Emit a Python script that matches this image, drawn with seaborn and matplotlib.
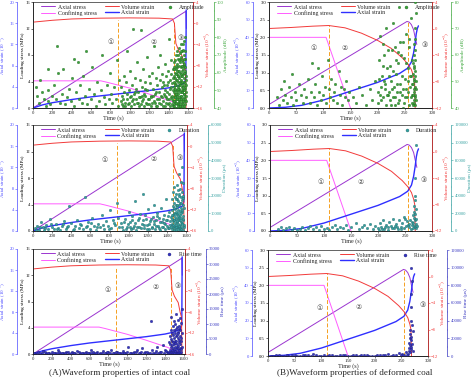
import matplotlib
matplotlib.use("Agg")
import seaborn as sns
import matplotlib.pyplot as plt
from matplotlib.ticker import MultipleLocator, AutoMinorLocator

sns.set_style("ticks")
plt.rcParams["font.family"] = ["Liberation Serif", "DejaVu Sans"]
plt.rcParams["mathtext.fontset"] = "stix"

# ---------------- intact coal (A) curves ----------------
A_t_stress = [0, 1578, 1583]
A_stress = [0, 14.6, 12.0]
A_t_conf = [0, 700, 760, 1000, 1200, 1430, 1500, 1560]
A_conf = [4.1, 4.1, 3.9, 3.0, 2.1, 1.0, 0.5, 0.25]
A_t_vol = [0, 200, 400, 700, 1000, 1300, 1440, 1460, 1475, 1500, 1540, 1560, 1575, 1580]
A_vol = [0.2, 0.55, 0.8, 0.95, 1.0, 0.95, 0.8, 0.0, -3.8, -5.0, -6.2, -8.0, -9.0, -16.0]
A_t_strain = [0, 100, 200, 400, 600, 800, 1000, 1200, 1400, 1500, 1560, 1578, 1582]
A_strain = [0, 0.6, 1.0, 1.6, 2.1, 2.5, 2.9, 3.3, 3.8, 4.2, 4.7, 5.5, 18.5]
A_stage_bounds = [880, 1460]

# ---------------- deformed coal (B) curves ----------------
B_t_stress = [0, 254, 258, 262, 266, 269, 272]
B_stress = [0.1, 2.45, 2.43, 2.36, 2.22, 2.0, 1.8]
B_t_conf = [0, 105, 150]
B_conf = [2.0, 2.0, 0.0]
B_t_vol = [0, 40, 80, 110, 140, 170, 200, 225, 245, 255, 262, 266, 268, 269]
B_vol = [0, 0.15, 0.35, 0.45, 0.1, -0.7, -1.8, -3.0, -4.4, -5.3, -6.2, -7.2, -8.0, -12.0]
B_t_strain = [0, 30, 60, 100, 150, 200, 240, 255, 262, 266, 269, 271, 273, 275]
B_strain = [0, 0.4, 1.5, 4.5, 9.5, 14.5, 19.5, 22.5, 26, 31, 37, 42, 45, 46.5]
B_stage_bounds = [110, 255]

# ---------------- AE hits (time, value) ----------------
A_amplitude = [
    (30, 52), (45, 47), (60, 43), (70, 56), (90, 49), (110, 45), (130, 41), (150, 44), (160, 50), (180, 42),
    (200, 47), (215, 53), (240, 45), (260, 60), (280, 43), (300, 48), (310, 62), (330, 42), (350, 46), (370, 51),
    (390, 44), (400, 57), (420, 41), (440, 49), (460, 66), (470, 45), (490, 53), (510, 43), (520, 58), (540, 47),
    (560, 42), (580, 51), (600, 45), (610, 63), (630, 48), (650, 41), (660, 55), (680, 44), (700, 50), (710, 70),
    (730, 46), (740, 42), (760, 53), (780, 45), (790, 60), (810, 48), (820, 43), (840, 52), (860, 45), (870, 67),
    (880, 41), (890, 56), (250, 75), (550, 72), (150, 62), (420, 68),
    (905, 44), (912, 52), (921, 47), (928, 41), (935, 58), (943, 49), (951, 43), (958, 55), (966, 45), (972, 72),
    (981, 42), (989, 50), (997, 46), (1004, 61), (1011, 41), (1019, 53), (1024, 44), (1031, 85), (1038, 48),
    (1046, 42), (1052, 57), (1060, 45), (1067, 51), (1073, 66), (1081, 43), (1088, 49), (1094, 41), (1101, 56),
    (1108, 46), (1113, 84), (1121, 44), (1127, 52), (1134, 62), (1142, 41), (1148, 48), (1155, 55), (1161, 47),
    (1168, 43), (1175, 69), (1182, 50), (1188, 45), (1195, 58), (1202, 42), (1208, 54), (1214, 47), (1221, 46),
    (1227, 60), (1233, 43), (1240, 51), (1246, 44), (1252, 75), (1259, 48), (1265, 41), (1271, 57), (1278, 45),
    (1284, 53), (1290, 63), (1296, 43), (1302, 49), (1308, 56), (1313, 70), (1319, 47), (1325, 42), (1330, 59),
    (1336, 52), (1342, 44), (1347, 55), (1352, 48), (1358, 65), (1363, 41), (1368, 50), (1373, 46), (1378, 58),
    (1383, 53), (1387, 45), (1392, 61), (1396, 42), (1401, 79), (1405, 48), (1409, 43), (1413, 56), (1417, 51),
    (1421, 67), (1425, 46), (1429, 59), (1433, 42), (1437, 54), (1441, 62), (1444, 44), (1447, 50), (1449, 57),
    (1330, 46), (1345, 41), (1355, 53), (1365, 47), (1375, 43), (1385, 49), (1395, 55), (1405, 45), (1415, 41),
    (1423, 52), (1431, 47), (1439, 45), (1446, 41), (1300, 45), (1285, 41), (1270, 49), (1255, 43), (1235, 47),
    (1215, 41), (1195, 45), (1180, 42), (1160, 51), (1140, 45), (1125, 47), (1110, 42), (1090, 46), (1075, 43),
    (1055, 49), (1035, 45), (1015, 47), (995, 43), (975, 48), (955, 41), (930, 45), (915, 42),
    (1452, 41), (1455, 46), (1451, 52), (1457, 58), (1454, 63),
    (1462, 43), (1465, 48), (1461, 54), (1467, 60), (1463, 67), (1466, 44),
    (1472, 40), (1475, 45), (1471, 50), (1477, 56), (1473, 62), (1476, 70), (1474, 47),
    (1482, 42), (1485, 47), (1481, 53), (1487, 59), (1483, 65), (1486, 72), (1484, 50),
    (1492, 41), (1495, 45), (1491, 49), (1497, 55), (1493, 61), (1496, 68), (1494, 52), (1498, 43),
    (1502, 40), (1505, 44), (1501, 48), (1507, 53), (1503, 57), (1506, 64), (1504, 74), (1508, 50),
    (1512, 42), (1515, 46), (1511, 51), (1517, 55), (1513, 60), (1516, 66), (1514, 71), (1518, 44),
    (1522, 41), (1525, 45), (1521, 49), (1527, 54), (1523, 58), (1526, 63), (1524, 69), (1528, 47), (1529, 76),
    (1532, 40), (1535, 43), (1531, 47), (1537, 52), (1533, 56), (1536, 61), (1534, 67), (1538, 72), (1539, 50),
    (1542, 41), (1545, 45), (1541, 49), (1547, 53), (1543, 58), (1546, 62), (1544, 66), (1548, 44), (1549, 73),
    (1552, 42), (1555, 46), (1551, 50), (1557, 55), (1553, 59), (1556, 64), (1554, 70), (1558, 48), (1559, 78),
    (1562, 40), (1565, 44), (1561, 48), (1567, 52), (1563, 57), (1566, 61), (1564, 65), (1568, 45), (1569, 80),
    (1572, 42), (1575, 47), (1571, 51), (1577, 56), (1573, 60), (1576, 44), (1574, 68),
    (1453, 44), (1458, 49), (1456, 55), (1459, 42), (1464, 51), (1468, 57), (1469, 46), (1460, 62), (1470, 53),
    (1478, 43), (1479, 59), (1480, 48), (1488, 45), (1489, 56), (1490, 63), (1499, 51), (1500, 58), (1509, 46),
    (1510, 61), (1519, 53), (1520, 42), (1530, 45), (1530, 59), (1540, 55), (1540, 64), (1550, 52), (1550, 44),
    (1560, 50), (1560, 60), (1570, 54), (1570, 63), (1578, 49), (1579, 58), (1458, 66), (1478, 64), (1498, 70),
    (1518, 68), (1538, 64), (1558, 68), (1568, 72), (1545, 76), (1525, 72), (1505, 67), (1485, 61), (1465, 40),
    (1495, 58), (1515, 41), (1535, 49), (1555, 41), (1575, 53),
]

A_duration = [
    (20, 1500), (40, 3000), (60, 800), (80, 5000), (100, 2000), (120, 600), (140, 3500), (160, 1200), (180, 7000),
    (200, 2500), (220, 900), (240, 4000), (260, 1800), (280, 600), (300, 3000), (320, 5500), (340, 1000),
    (360, 2200), (380, 14000), (400, 4500), (420, 800), (440, 2800), (460, 6000), (480, 1500), (500, 3500),
    (520, 900), (540, 19000), (560, 2600), (580, 5000), (600, 1200), (620, 7500), (640, 3000), (660, 800),
    (680, 4200), (700, 2000), (720, 9000), (740, 1000), (760, 5500), (780, 2800), (800, 12000), (820, 1500),
    (840, 6500), (860, 3500), (880, 16000), (900, 2200),
    (30, 500), (70, 2500), (130, 1800), (190, 3800), (250, 1200), (310, 4200), (370, 2600), (430, 1100),
    (490, 3800), (550, 2000), (610, 4800), (670, 2200), (730, 3600), (790, 1100), (850, 4400), (890, 7500),
    (920, 4500), (940, 800), (960, 7000), (980, 2500), (1000, 11000), (1010, 5000), (1020, 1200), (1040, 8500),
    (1060, 3000), (1070, 17000), (1080, 600), (1100, 6000), (1110, 2000), (1120, 9500), (1140, 4000),
    (1150, 21000), (1160, 1500), (1180, 7000), (1190, 3200), (1200, 12500), (1210, 900), (1220, 5500),
    (1240, 2500), (1250, 8000), (1260, 15000), (1270, 4000), (1280, 1000), (1290, 6500), (1300, 10000),
    (1310, 3000), (1320, 7500), (1330, 500), (1340, 13000), (1350, 5000), (1360, 2000), (1370, 9000),
    (1380, 4000), (1390, 18000), (1400, 6500), (1410, 1500), (1420, 11000), (1430, 3500), (1440, 8000),
    (930, 2000), (950, 5000), (970, 1000), (990, 4000), (1015, 2500), (1030, 6000), (1050, 1500), (1065, 4500),
    (1090, 2500), (1105, 7500), (1130, 1500), (1145, 6000), (1165, 3500), (1175, 9000), (1195, 1200),
    (1215, 4000), (1230, 7000), (1245, 1800), (1265, 5500), (1285, 3000), (1295, 8500), (1315, 1500),
    (1325, 5000), (1345, 2500), (1355, 7000), (1365, 4500), (1385, 1000), (1395, 6000), (1405, 3000),
    (1415, 8500), (1425, 1800), (1435, 5500), (1445, 2500),
    (1452, 1000), (1455, 4000), (1451, 7000), (1457, 12000), (1454, 18000),
    (1462, 2000), (1465, 5500), (1461, 9000), (1467, 14000), (1463, 22000),
    (1472, 500), (1475, 3000), (1471, 6500), (1477, 10000), (1473, 16000), (1476, 25000),
    (1482, 1500), (1485, 4500), (1481, 8000), (1487, 12500), (1483, 19000),
    (1492, 800), (1495, 3500), (1491, 7000), (1497, 11000), (1493, 15000), (1496, 21000),
    (1502, 2500), (1505, 5000), (1501, 9500), (1507, 13500), (1503, 18000), (1506, 26000),
    (1512, 1000), (1515, 4000), (1511, 7500), (1517, 12000), (1513, 17000), (1516, 23000),
    (1522, 2000), (1525, 6000), (1521, 10000), (1527, 14500), (1523, 20000), (1526, 32000),
    (1532, 500), (1535, 3500), (1531, 8000), (1537, 11500), (1533, 16000), (1536, 24000),
    (1542, 1500), (1545, 5000), (1541, 9000), (1547, 13000), (1543, 19000), (1546, 28000),
    (1552, 1000), (1555, 4500), (1551, 7500), (1557, 12000), (1553, 17500), (1556, 22000), (1554, 36000),
    (1562, 2500), (1565, 6000), (1561, 10500), (1567, 15000), (1563, 20000), (1566, 27000),
    (1572, 800), (1575, 3500), (1571, 8500), (1577, 13000), (1573, 18500),
    (1458, 9000), (1468, 3500), (1478, 6000), (1488, 9500), (1498, 2000), (1508, 5500), (1518, 8500),
    (1528, 3000), (1538, 6500), (1548, 10000), (1558, 4000), (1568, 7000), (1578, 2500), (1470, 13000),
    (1510, 15000), (1550, 16000), (1530, 21000), (1490, 18000),
]

A_rise_time = [
    (20, 300), (50, 600), (80, 150), (110, 900), (140, 400), (170, 200), (200, 700), (230, 350), (260, 1200),
    (290, 250), (320, 500), (350, 800), (380, 150), (410, 600), (440, 300), (470, 1000), (500, 450), (530, 200),
    (560, 700), (590, 350), (620, 1500), (650, 250), (680, 600), (710, 400), (740, 900), (770, 200), (800, 550),
    (830, 1200), (860, 300), (890, 700), (920, 250), (950, 1100), (980, 500), (1010, 2500), (1040, 300),
    (1070, 800), (1100, 1500), (1130, 400), (1160, 2000), (1190, 700), (1220, 300), (1250, 11000), (1260, 1300),
    (1290, 500), (1320, 2200), (1350, 800), (1380, 3000), (1400, 1500), (1420, 600), (1440, 4000),
    (10, 400), (40, 150), (70, 500), (100, 250), (130, 600), (160, 300), (190, 150), (220, 450), (250, 300),
    (280, 600), (310, 200), (340, 400), (370, 550), (400, 250), (430, 450), (460, 150), (490, 600), (520, 350),
    (550, 500), (580, 200), (610, 400), (640, 600), (670, 300), (700, 150), (730, 500), (760, 350), (790, 700),
    (820, 250), (850, 450), (880, 600), (910, 300), (940, 500), (970, 200), (1000, 650), (1030, 400),
    (1060, 250), (1090, 700), (1120, 350), (1150, 550), (1180, 200), (1210, 800), (1240, 450), (1270, 300),
    (1300, 900), (1330, 400), (1360, 650), (1390, 250), (1410, 1100), (1430, 450), (1445, 800),
    (1452, 300), (1455, 1500), (1451, 3500), (1457, 6000),
    (1462, 800), (1465, 2500), (1461, 5000), (1467, 8000), (1463, 12500),
    (1472, 200), (1475, 1200), (1471, 3000), (1477, 4500), (1473, 7000),
    (1482, 600), (1485, 2000), (1481, 4000), (1487, 6500), (1483, 9500),
    (1492, 400), (1495, 1500), (1491, 3500), (1497, 5500), (1493, 8000), (1496, 11000),
    (1502, 900), (1505, 2500), (1501, 4500), (1507, 7000), (1503, 10000),
    (1512, 300), (1515, 1800), (1511, 3800), (1517, 6000), (1513, 8500), (1516, 13500),
    (1522, 700), (1525, 2200), (1521, 4200), (1527, 6500), (1523, 9000),
    (1532, 500), (1535, 1600), (1531, 3200), (1537, 5200), (1533, 7500), (1536, 11500),
    (1542, 200), (1545, 1400), (1541, 2800), (1547, 4800), (1543, 7000), (1546, 9500),
    (1552, 800), (1555, 2000), (1551, 4000), (1557, 6000), (1553, 8500), (1556, 12000),
    (1562, 400), (1565, 1800), (1561, 3500), (1567, 5500), (1563, 8000), (1566, 10500),
    (1572, 600), (1575, 2500), (1571, 4500), (1577, 7000), (1576, 15000),
]

B_amplitude = [
    (15, 44), (18, 41), (22, 47), (25, 43), (28, 50), (30, 45), (33, 42), (36, 48), (40, 44), (42, 53), (45, 41),
    (48, 46), (50, 43), (55, 49), (58, 45), (62, 42), (65, 47), (68, 44),
    (72, 51), (75, 42), (78, 46), (80, 57), (82, 44), (85, 49), (88, 41), (90, 55), (92, 46), (95, 43), (98, 52),
    (100, 45), (103, 48), (105, 42), (108, 58), (110, 47), (112, 44), (115, 51), (118, 43), (120, 46), (122, 49),
    (125, 42), (128, 54), (130, 45), (132, 48), (135, 41), (138, 47), (140, 44), (142, 50), (145, 43), (148, 46),
    (155, 44), (160, 42), (165, 48), (172, 45), (178, 41), (185, 47), (190, 43), (195, 50),
    (200, 42), (202, 58), (204, 45), (206, 48), (208, 52), (210, 44), (212, 60), (214, 47), (216, 41), (218, 55),
    (220, 46), (222, 43), (224, 50), (226, 62), (228, 44), (230, 48), (232, 41), (234, 53), (236, 46), (238, 57),
    (240, 43), (242, 49), (244, 45), (246, 65), (248, 42), (250, 51), (252, 47), (254, 44), (256, 55), (258, 41),
    (260, 48), (262, 52), (264, 45), (205, 67), (215, 70), (228, 72), (239, 78), (249, 59), (257, 63), (223, 56),
    (233, 58), (243, 60), (253, 68), (261, 74), (211, 50), (219, 45), (237, 42), (247, 47), (255, 50), (263, 42),
    (201, 46), (203, 51), (207, 43), (209, 56), (213, 49), (217, 45), (221, 52), (225, 41), (227, 47), (229, 54),
    (231, 44), (235, 49), (237, 61), (241, 46), (245, 52), (247, 40), (251, 44), (253, 57), (255, 46), (259, 52),
    (262, 44), (264, 58), (263, 49), (258, 66), (241, 65), (231, 63), (219, 62), (209, 64),
    (265, 41), (265, 45), (265, 49), (265, 53), (265, 57), (266, 43), (266, 47), (266, 51), (266, 55), (266, 60),
    (267, 42), (267, 46), (267, 50), (267, 56), (267, 64), (268, 44), (268, 48), (268, 52), (268, 58), (268, 66),
    (268, 80), (269, 41), (269, 45), (269, 54), (269, 62), (269, 70), (270, 43), (270, 47), (270, 50), (270, 76),
]

B_duration = [
    (15, 2000), (20, 4000), (25, 1000), (30, 3000), (35, 5000), (40, 1500), (45, 3500), (50, 800), (55, 2500),
    (60, 4500), (65, 1200), (70, 3000), (75, 6000), (80, 2000), (85, 4000), (90, 1000), (95, 5500), (100, 2500),
    (105, 3500), (110, 1500), (115, 4500), (120, 7000), (125, 2000), (130, 5000), (135, 3000), (140, 6500),
    (145, 1500), (150, 4000), (160, 9000), (165, 2500), (170, 5000), (175, 7000), (180, 3000), (185, 8000),
    (190, 2000), (195, 5500),
    (200, 3000), (203, 9000), (206, 5000), (209, 12000), (212, 2000), (215, 7000), (218, 4000), (221, 10000),
    (224, 6000), (227, 14000), (230, 3000), (233, 8000), (236, 5000), (239, 12000), (242, 2500), (245, 9000),
    (248, 16000), (251, 6000), (254, 11000), (257, 4000), (260, 13000), (263, 7000), (264, 18000),
    (201, 1500), (207, 2500), (213, 4500), (219, 1500), (225, 3500), (231, 6000), (237, 2000), (243, 4500),
    (249, 3000), (255, 6500), (261, 2500), (263, 10000), (258, 8000), (250, 14000),
    (265, 3000), (265, 9000), (266, 15000), (266, 22000), (267, 6000), (267, 28000), (268, 12000), (268, 35000),
    (268, 40000), (269, 5000), (269, 19000), (269, 60000), (270, 8000), (270, 25000), (270, 97000), (271, 3000),
    (271, 14000), (272, 6000),
]

B_rise_time = [
    (5, 500), (15, 1000), (25, 300), (35, 1500), (45, 800), (55, 400), (65, 1200), (75, 600), (85, 1800),
    (95, 300), (105, 900), (115, 1500), (125, 500), (135, 1100), (145, 700), (155, 300), (165, 1300), (175, 600),
    (185, 1000), (195, 400), (205, 1600), (215, 800), (225, 2500), (235, 1200), (245, 3000), (252, 1800),
    (258, 4000), (262, 2500),
    (10, 300), (20, 700), (30, 200), (40, 500), (50, 900), (60, 300), (70, 600), (80, 200), (90, 800), (100, 500),
    (110, 300), (120, 700), (130, 200), (140, 900), (150, 400), (160, 600), (170, 200), (180, 800), (190, 500),
    (200, 300), (210, 700), (220, 1200), (230, 500), (240, 900), (250, 1500), (255, 700), (260, 1200),
    (264, 6000), (265, 9000), (265, 15000), (266, 5000), (266, 20000), (267, 12000), (267, 25000), (267, 30000),
    (268, 8000), (268, 18000), (268, 40000), (268, 55000), (269, 10000), (269, 22000), (269, 70000),
    (269, 100000), (270, 14000), (270, 35000), (270, 85000), (271, 6000), (271, 28000),
]

C_STRESS = "#9b35d0"
C_CONF = "#ff5cff"
C_VOL = "#f23a3a"
C_STRAIN = "#2f2fff"
C_STRAIN_AX = "#4a4aff"
C_STAGE = "#f5a020"
FS = 3.3
LFS = 3.8

A_curves = dict(stress=(A_t_stress, A_stress), conf=(A_t_conf, A_conf), vol=(A_t_vol, A_vol),
                strain=(A_t_strain, A_strain))
B_curves = dict(stress=(B_t_stress, B_stress), conf=(B_t_conf, B_conf), vol=(B_t_vol, B_vol),
                strain=(B_t_strain, B_strain))

fig = plt.figure(figsize=(4.74, 3.84), dpi=100)


def style_axis(ax, color):
    ax.tick_params(axis="y", colors=color, labelsize=FS, length=1.6, width=0.4, pad=0.6)
    ax.tick_params(axis="y", which="minor", colors=color, length=0.9, width=0.3)
    ax.yaxis.label.set_color(color)


def panel(box, curves, xmax, xstep, strain_max, strain_step, stress_max, stress_step,
          vol_lim, ae, ae_name, ae_lim, ae_step, ae_color, ae_edge, ae_label,
          bounds, bound_tops, stages, label_edges, ae_offset=15):
    l, t, r, b = box
    w = r - l
    host = fig.add_axes([l / 474, 1 - b / 384, w / 474, (b - t) / 384])
    ax_s = host.twinx()
    ax_v = host.twinx()
    ax_ae = host.twinx()

    # loading stress (host)
    sns.lineplot(x=curves["stress"][0], y=curves["stress"][1], ax=host, color=C_STRESS, lw=0.7,
                 estimator=None, sort=False, label="Axial stress")
    sns.lineplot(x=curves["conf"][0], y=curves["conf"][1], ax=host, color=C_CONF, lw=0.7,
                 estimator=None, sort=False, label="Confining stress")
    for xb, top in zip(bounds, bound_tops):
        host.axvline(xb, ymin=0, ymax=top, color=C_STAGE, lw=0.7, ls=(0, (4, 2)))
    for (xs, ys), txt in zip(stages, ["①", "②", "③"]):
        host.text(xs, ys, txt, fontsize=5, ha="center", va="center", color="#444444", family=["DejaVu Sans"])
    host.set_xlim(0, xmax)
    host.set_ylim(0, stress_max)
    host.xaxis.set_major_locator(MultipleLocator(xstep))
    host.xaxis.set_minor_locator(AutoMinorLocator(2))
    host.yaxis.set_major_locator(MultipleLocator(stress_step))
    host.set_xlabel("Time (s)", fontsize=4.4, labelpad=0.3)
    host.set_ylabel("Loading stress (MPa)", fontsize=LFS)
    host.tick_params(axis="x", labelsize=FS + 0.2, length=1.6, width=0.4, pad=0.7)
    host.tick_params(axis="x", which="minor", length=0.9, width=0.3)
    style_axis(host, "black")
    if stress_step < 1:
        host.yaxis.set_major_formatter("{x:.1f}")

    # axial strain (outer left)
    sns.lineplot(x=curves["strain"][0], y=curves["strain"][1], ax=ax_s, color=C_STRAIN, lw=1.0,
                 estimator=None, sort=False, label="Axial strain")
    ax_s.yaxis.set_ticks_position("left")
    ax_s.yaxis.set_label_position("left")
    ax_s.spines["left"].set_position(("outward", 11.5))
    ax_s.spines["left"].set_visible(True)
    ax_s.spines["left"].set_color(C_STRAIN_AX)
    ax_s.set_ylim(0, strain_max)
    ax_s.yaxis.set_major_locator(MultipleLocator(strain_step))
    ax_s.set_ylabel("Axial strain (10$^{-3}$)", fontsize=3.6)
    style_axis(ax_s, C_STRAIN_AX)

    # volume strain (right)
    sns.lineplot(x=curves["vol"][0], y=curves["vol"][1], ax=ax_v, color=C_VOL, lw=0.7,
                 estimator=None, sort=False, label="Volume strain")
    ax_v.set_ylim(*vol_lim)
    ax_v.yaxis.set_major_locator(MultipleLocator(4))
    ax_v.spines["right"].set_color(C_VOL)
    ax_v.set_ylabel("Volume strain (10$^{-3}$)", fontsize=LFS)
    style_axis(ax_v, C_VOL)

    # AE parameter (outer right)
    ae_t, ae_v = zip(*ae)
    sns.scatterplot(x=list(ae_t), y=list(ae_v), ax=ax_ae, s=3.2, color=ae_color, edgecolor=ae_edge,
                    linewidth=0.25, label=ae_name)
    ax_ae.spines["right"].set_position(("outward", ae_offset))
    ax_ae.spines["right"].set_color(ae_color)
    ax_ae.set_ylim(*ae_lim)
    ax_ae.yaxis.set_major_locator(MultipleLocator(ae_step))
    ax_ae.yaxis.set_minor_locator(AutoMinorLocator(2))
    ax_ae.set_ylabel(ae_label, fontsize=LFS)
    style_axis(ax_ae, ae_color)

    # y labels: left labels sit with their right edge at the given pixel x,
    # right labels with their left edge there
    for a, px in zip((ax_s, host, ax_v, ax_ae), label_edges):
        a.yaxis.set_label_coords((px - l) / w, 0.5)

    for a in (host, ax_s, ax_v, ax_ae):
        for sp in a.spines.values():
            sp.set_linewidth(0.5)
        if a.get_legend() is not None:
            a.get_legend().remove()
    for a in (ax_s, ax_v, ax_ae):
        a.spines["top"].set_visible(False)

    handles = [host.lines[0], host.lines[1], ax_v.lines[0], ax_s.lines[0], ax_ae.collections[0]]
    labels = ["Axial stress", "Confining stress", "Volume strain", "Axial strain", ae_name]
    ax_ae.legend(handles, labels, ncol=3, loc="upper left", bbox_to_anchor=(0.03, 1.01), frameon=False,
                 fontsize=4.2, handlelength=2.4, handletextpad=0.4, columnspacing=1.4, labelspacing=0.15,
                 borderaxespad=0.2, markerscale=1.2)


GREEN, GREEN_E = "#3aa53a", "#1d5e1d"
TEAL, TEAL_E = "#34a0a0", "#1b6262"
NAVY, NAVY_E = "#3434c0", "#141470"

panel((33, 2, 193, 108), A_curves, 1652, 200, 20, 4, 16, 4, (-16, 4), A_amplitude, "Amplitude",
      (40, 100), 10, GREEN, GREEN_E, "Amplitude (dB)", A_stage_bounds, [0.83, 0.82],
      [(800, 10), (1250, 10), (1525, 10.6)], (9.0, 25, 203.5, 224))
panel((33, 125, 187, 231), A_curves, 1610, 200, 20, 4, 16, 4, (-16, 4), A_duration, "Duration",
      (0, 60000), 10000, TEAL, TEAL_E, "Duration (μs)", A_stage_bounds, [0.83, 0.82],
      [(750, 10.7), (1266, 10.8), (1531, 11)], (9.0, 25, 197.5, 223))
panel((33, 249, 185, 354), A_curves, 1612, 200, 20, 4, 16, 4, (-16, 4), A_rise_time, "Rise time",
      (0, 35000), 5000, NAVY, NAVY_E, "Rise time (μs)", A_stage_bounds, [0.83, 0.82],
      [(790, 9.7), (1300, 10.2), (1530, 10.3)], (9.0, 25, 195.5, 221.5))
panel((269, 2, 432, 108), B_curves, 300, 50, 60, 10, 3.0, 0.5, (-12, 4), B_amplitude, "Amplitude",
      (40, 80), 10, GREEN, GREEN_E, "Amplitude (dB)", B_stage_bounds, [0.78, 0.81],
      [(83, 1.7), (140, 1.7), (286, 1.78)], (244, 259.5, 442.5, 461), ae_offset=14)
panel((270, 125, 432, 231), B_curves, 300, 50, 60, 10, 3.0, 0.5, (-12, 4), B_duration, "Duration",
      (0, 120000), 20000, TEAL, TEAL_E, "Duration (μs)", B_stage_bounds, [0.78, 0.81],
      [(93, 1.4), (167, 1.4), (285, 1.44)], (245, 260.5, 442.5, 468.5), ae_offset=14)
panel((268, 250, 428, 356), B_curves, 300, 50, 60, 10, 3.0, 0.5, (-12, 4), B_rise_time, "Rise time",
      (0, 120000), 20000, NAVY, NAVY_E, "Rise time (μs)", B_stage_bounds, [0.78, 0.81],
      [(97, 1.35), (169, 1.4), (289, 1.44)], (243, 258.5, 438.5, 464.5), ae_offset=14)

fig.text(120 / 474, 1 - 373 / 384, "(A)Waveform properties of intact coal", ha="center", va="center",
         fontsize=6.6)
fig.text(355 / 474, 1 - 373 / 384, "(B)Waveform properties of deformed coal", ha="center", va="center",
         fontsize=6.6)

fig.savefig("out.png", dpi=100)
